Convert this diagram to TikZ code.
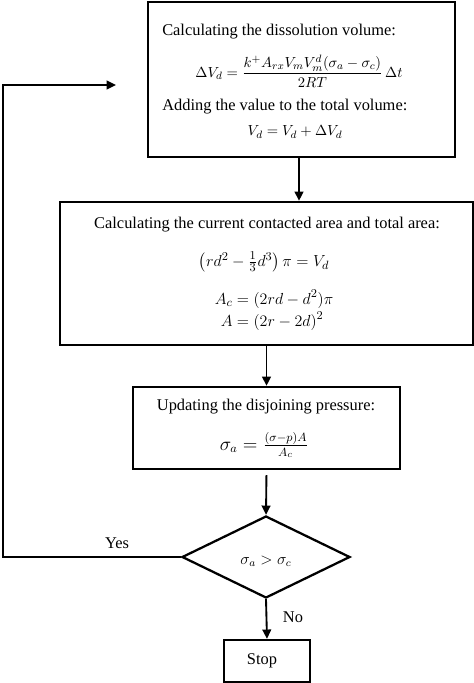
\documentclass[tikz,border=0pt]{standalone}
\usepackage{amsmath}
\usepackage{fontspec}
\setmainfont{Liberation Serif}
\usetikzlibrary{shapes.geometric,arrows.meta}
\begin{document}
\begin{tikzpicture}[x=0.75pt,y=-0.75pt,
  box/.style={draw,line width=1.7pt,inner sep=0pt},
  txt/.style={inner sep=0pt,font=\fontsize{12.3}{14}\selectfont},
  mth/.style={inner sep=0pt,font=\fontsize{11.3}{13}\selectfont},
  mthb/.style={inner sep=0pt,font=\fontsize{12.8}{15}\selectfont},
  conn/.style={line width=1.4pt,-{Triangle[length=7pt,width=6.5pt]}}]
\useasboundingbox (0,0) rectangle (474,683);
% boxes
\node[box,minimum width=230.25pt,minimum height=116.25pt] (b1) at (301.5,79.5) {};
\node[box,minimum width=309.75pt,minimum height=107.25pt] (b2) at (266.5,273.5) {};
\node[box,minimum width=200.25pt,minimum height=61.5pt] (b3) at (266.5,428) {};
\node[box,shape=diamond,minimum width=126pt,minimum height=61.5pt] (dia) at (266,557) {};
\node[box,minimum width=64.5pt,minimum height=31.5pt] (stop) at (267,661) {};
% texts box1
\node[txt,anchor=west] (t1a) at (162,32) {Calculating the dissolution volume:};
\node[mth] (t1b) at (299,71) {$\Delta V_d=\dfrac{k^{+}A_{rx}V_mV_m^{d}(\sigma_a-\sigma_c)}{2RT}\,\Delta t$};
\node[txt,anchor=west] (t1c) at (162,107) {Adding the value to the total volume:};
\node[mth] (t1d) at (295,132) {$V_d=V_d+\Delta V_d$};
% texts box2
\node[txt] (t2a) at (267,225) {Calculating the current contacted area and total area:};
\node[mthb] (t2b) at (264,262) {$\left(rd^2-\tfrac{1}{3}d^3\right)\pi=V_d$};
\node[mthb] (t2c) at (274,311) {$\begin{aligned}A_c&=(2rd-d^2)\pi\\[-3pt]A&=(2r-2d)^2\end{aligned}$};
% texts box3
\node[txt] (t3a) at (266,407) {Updating the disjoining pressure:};
\node[inner sep=0pt,font=\fontsize{13.5}{15}\selectfont] (t3b) at (264,445) {$\sigma_a=\tfrac{(\sigma-p)A}{A_c}$};
% diamond, stop, labels
\node[inner sep=0pt,font=\fontsize{11.5}{13}\selectfont] (td) at (266,561) {$\sigma_a>\sigma_c$};
\node[txt] (ts) at (262,661) {Stop};
\node[txt] (yes) at (117,543) {Yes};
\node[txt] (no) at (293,617) {No};
% connectors
\coordinate (c1) at (3,557);
\coordinate (c2) at (3,85);
\coordinate (c3) at (116,85);
\draw[conn] (b1.south -| 299,0) -- (b2.north -| 299,0);
\draw[conn] (b2.south) -- (b3.north);
\draw[conn,shorten <=3.75pt] (b3.south) -- (dia.north);
\draw[conn] (dia.south) -- (stop.north);
\draw[line width=1.4pt,-{Triangle[length=7pt,width=6.5pt]}] (dia.west) -- (c1) -- (c2) -- (c3);
\end{tikzpicture}
\end{document}
